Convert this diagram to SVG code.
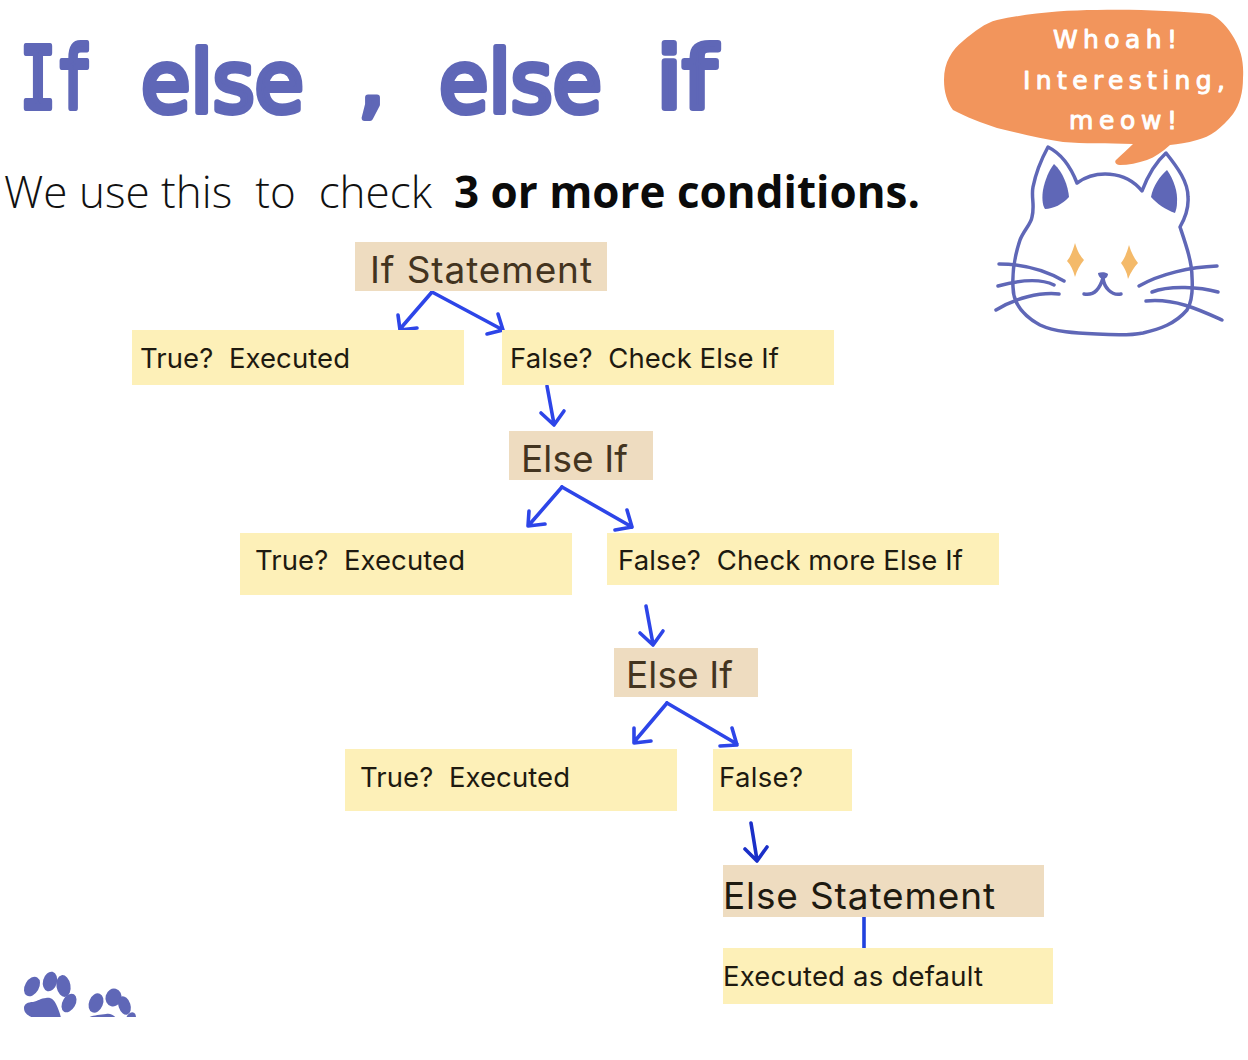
<svg xmlns="http://www.w3.org/2000/svg" width="1248" height="1060" viewBox="0 0 1248 1060">
<style>
.title{font-family:"DejaVu Sans",sans-serif;font-weight:400;font-size:86px;fill:#5F67B7;stroke:#5F67B7;stroke-width:6px;stroke-linejoin:round;stroke-linecap:round}
.mono{font-family:"DejaVu Sans Mono",monospace}
.head{fill:#EEDCC0}.lab{fill:#FDF0B8}
.th{font-family:"Inter","Liberation Sans",sans-serif;font-size:37px;fill:#43341F}
.tl{font-family:"Inter","Liberation Sans",sans-serif;font-size:27.5px;fill:#1E1A10}
.bub{font-family:"DejaVu Sans",sans-serif;font-size:25px;fill:#fff;stroke:#fff;stroke-width:1px;stroke-linejoin:round}
.cat{fill:none;stroke:#5F67B7;stroke-width:3.5;stroke-linecap:round;stroke-linejoin:round}
.c{fill:#5F67B7}.star{fill:#F4BA6A}
.arrow{fill:none;stroke:#2D45E8;stroke-width:3.6;stroke-linecap:round;stroke-linejoin:round}
</style>
<defs><clipPath id="pawclip"><rect x="0" y="950" width="160" height="67"/></clipPath></defs>
<rect width="1248" height="1060" fill="#fff"/>
<g id="title">
<text class="title mono" x="20" y="108" textLength="72" lengthAdjust="spacingAndGlyphs">If</text>
<text class="title" x="141" y="112" textLength="163" lengthAdjust="spacingAndGlyphs">else</text>
<text class="title" x="358" y="108">,</text>
<text class="title" x="439" y="112" textLength="163" lengthAdjust="spacingAndGlyphs">else</text>
<text class="title" x="656" y="108" textLength="60" lengthAdjust="spacingAndGlyphs">if</text>
</g>
<g id="subtitle">
<text x="4" y="208" font-family="Open Sans, sans-serif" font-size="44" font-weight="300" fill="#111" textLength="428" lengthAdjust="spacing" xml:space="preserve">We use this  to  check</text>
<text x="454" y="208" font-family="Open Sans, sans-serif" font-size="44" font-weight="700" fill="#0b0b0b" textLength="466" lengthAdjust="spacingAndGlyphs">3 or more conditions.</text>
</g>
<g id="cat">
<path class="cat" d="M1048 147C1060 153 1070 165 1077 183C1095 170 1125 170 1142 191C1148 175 1156 162 1166 153C1178 168 1188 182 1188 197C1189 210 1184 220 1180 227C1186 245 1192 262 1192 277C1193 292 1192 302 1187 310C1175 324 1160 329 1143 333C1128 336 1112 335 1097 334C1075 333 1055 332 1040 325C1022 315 1013 302 1013 287C1012 270 1016 252 1020 240C1024 230 1031 224 1032 217C1035 205 1031 197 1033 187C1036 172 1042 158 1048 147Z"/>
<path class="c" d="M1054 164C1063 172 1068 186 1069 197C1063 204 1053 209 1045 209C1042 205 1042 196 1043 190C1045 180 1049 170 1054 164Z"/>
<path class="c" d="M1167 170C1174 180 1178 192 1177 203C1177 207 1176 210 1175 213C1166 210 1156 203 1151 197C1153 186 1160 176 1167 170Z"/>
<path class="star" d="M1075 243C1077 250 1080 256 1084 260C1080 265 1077 270 1075 277C1073 270 1071 265 1067 261C1071 256 1073 250 1075 243Z"/>
<path class="star" d="M1129 245C1131 252 1134 258 1138 263C1134 267 1131 272 1128 279C1127 272 1124 267 1121 263C1125 258 1127 252 1129 245Z"/>
<path class="c" d="M1098 273C1101 272 1106 272 1108 274C1108 277 1105 279 1103 279C1101 279 1098 276 1098 273Z"/>
<path class="cat" d="M1084 294C1094 296 1100 288 1103 278C1104 287 1111 296 1121 294"/>
<path class="cat" d="M999 264C1025 264 1045 270 1064 281M998 286C1020 280 1040 278 1054 285M996 310C1015 298 1040 292 1059 294"/>
<path class="cat" d="M1217 266C1190 267 1160 274 1139 286M1218 292C1200 287 1170 285 1152 292M1222 320C1200 310 1175 298 1146 301"/>
</g>
<g id="bubble">
<path fill="#F2955C" d="M944 80C944 62 952 50 963 41C975 31 985 23 997 20C1030 13 1065 10 1097 10C1135 9 1175 11 1210 14C1220 18 1228 28 1234 38C1241 50 1244 62 1243 78C1243 92 1240 104 1233 114C1222 128 1210 137 1197 140C1187 143 1178 144 1170 145C1162 152 1155 157 1147 160C1138 163 1128 165 1120 165C1116 165 1114 162 1116 160C1122 154 1128 149 1133 144C1105 143 1085 144 1063 142C1040 139 1018 133 997 128C982 123 966 117 953 110C947 102 944 92 944 80Z"/>
<text class="bub" x="1053" y="48" textLength="124">Whoah!</text>
<text class="bub" x="1023" y="89" textLength="202">Interesting,</text>
<text class="bub" x="1069" y="129" textLength="108">meow!</text>
</g>
<g id="connectors" class="arrow">
<path d="M432 292L400 329M398 315L400 330L417 328"/>
<path d="M432 292L503 330M498 314L503 330L487 334"/>
<path d="M547 386L554 424M541 413L554 425L564 411"/>
<path d="M562 487L529 525M529 511L528 526L545 524"/>
<path d="M562 487L632 527M627 510L632 527L615 530"/>
<path d="M646 606L653 644M640 633L653 645L663 631"/>
<path d="M667 703L634 742M634 728L634 743L651 741"/>
<path d="M667 703L737 744M732 728L737 745L720 746"/>
<path d="M751 823L757 860M745 849L757 861L767 847" style="stroke:#1A2FC8"/>
<path d="M864 917L864 948" style="stroke:#2142DE"/>
</g>
<g id="n1"><rect class="head" x="355" y="242" width="252" height="49"/><text class="th" x="370" y="283" textLength="222">If Statement</text></g>
<g id="n2"><rect class="lab" x="132" y="330" width="332" height="55"/><text class="tl" x="140" y="368" textLength="210" xml:space="preserve">True?  Executed</text></g>
<g id="n3"><rect class="lab" x="502" y="330" width="332" height="55"/><text class="tl" x="510" y="368" textLength="269" xml:space="preserve">False?  Check Else If</text></g>
<g id="n4"><rect class="head" x="509" y="431" width="144" height="49"/><text class="th" x="521" y="472" textLength="107">Else If</text></g>
<g id="n5"><rect class="lab" x="240" y="533" width="332" height="62"/><text class="tl" x="255" y="570" textLength="210" xml:space="preserve">True?  Executed</text></g>
<g id="n6"><rect class="lab" x="607" y="533" width="392" height="52"/><text class="tl" x="618" y="570" textLength="345" xml:space="preserve">False?  Check more Else If</text></g>
<g id="n7"><rect class="head" x="614" y="648" width="144" height="49"/><text class="th" x="626" y="688" textLength="107">Else If</text></g>
<g id="n8"><rect class="lab" x="345" y="749" width="332" height="62"/><text class="tl" x="360" y="787" textLength="210" xml:space="preserve">True?  Executed</text></g>
<g id="n9"><rect class="lab" x="713" y="749" width="139" height="62"/><text class="tl" x="719" y="787" textLength="84">False?</text></g>
<g id="n10"><rect class="head" x="723" y="865" width="321" height="52"/><text class="th" x="723" y="909" textLength="272" style="fill:#1E1A10">Else Statement</text></g>
<g id="n11"><rect class="lab" x="723" y="948" width="330" height="56"/><text class="tl" x="723" y="986" textLength="260">Executed as default</text></g>
<g id="paws" clip-path="url(#pawclip)" class="c">
<ellipse cx="32" cy="986.5" rx="7" ry="10.5" transform="rotate(30 32 986.5)"/>
<ellipse cx="50" cy="981.5" rx="7" ry="10" transform="rotate(15 50 981.5)"/>
<ellipse cx="63.5" cy="986" rx="7" ry="11" transform="rotate(-10 63.5 986)"/>
<ellipse cx="69" cy="1003" rx="6.5" ry="10" transform="rotate(30 69 1003)"/>
<path d="M24 1008C24 1004 28 1002 33 1002C38 1001 41 998 46 998C51 997 54 1000 56 1004C58 1008 60 1013 61 1018L34 1018C28 1016 24 1013 24 1008Z"/>
<ellipse cx="96" cy="1003" rx="7" ry="10" transform="rotate(22 96 1003)"/>
<ellipse cx="113.5" cy="997.5" rx="8" ry="9" transform="rotate(15 113.5 997.5)"/>
<ellipse cx="124.5" cy="1005.5" rx="6" ry="9.5" transform="rotate(-18 124.5 1005.5)"/>
<ellipse cx="131" cy="1018" rx="4.5" ry="6" transform="rotate(30 131 1018)"/>
<path d="M88 1018C92 1015 100 1015 106 1014C110 1013 114 1015 116 1018Z"/>
</g>
</svg>
